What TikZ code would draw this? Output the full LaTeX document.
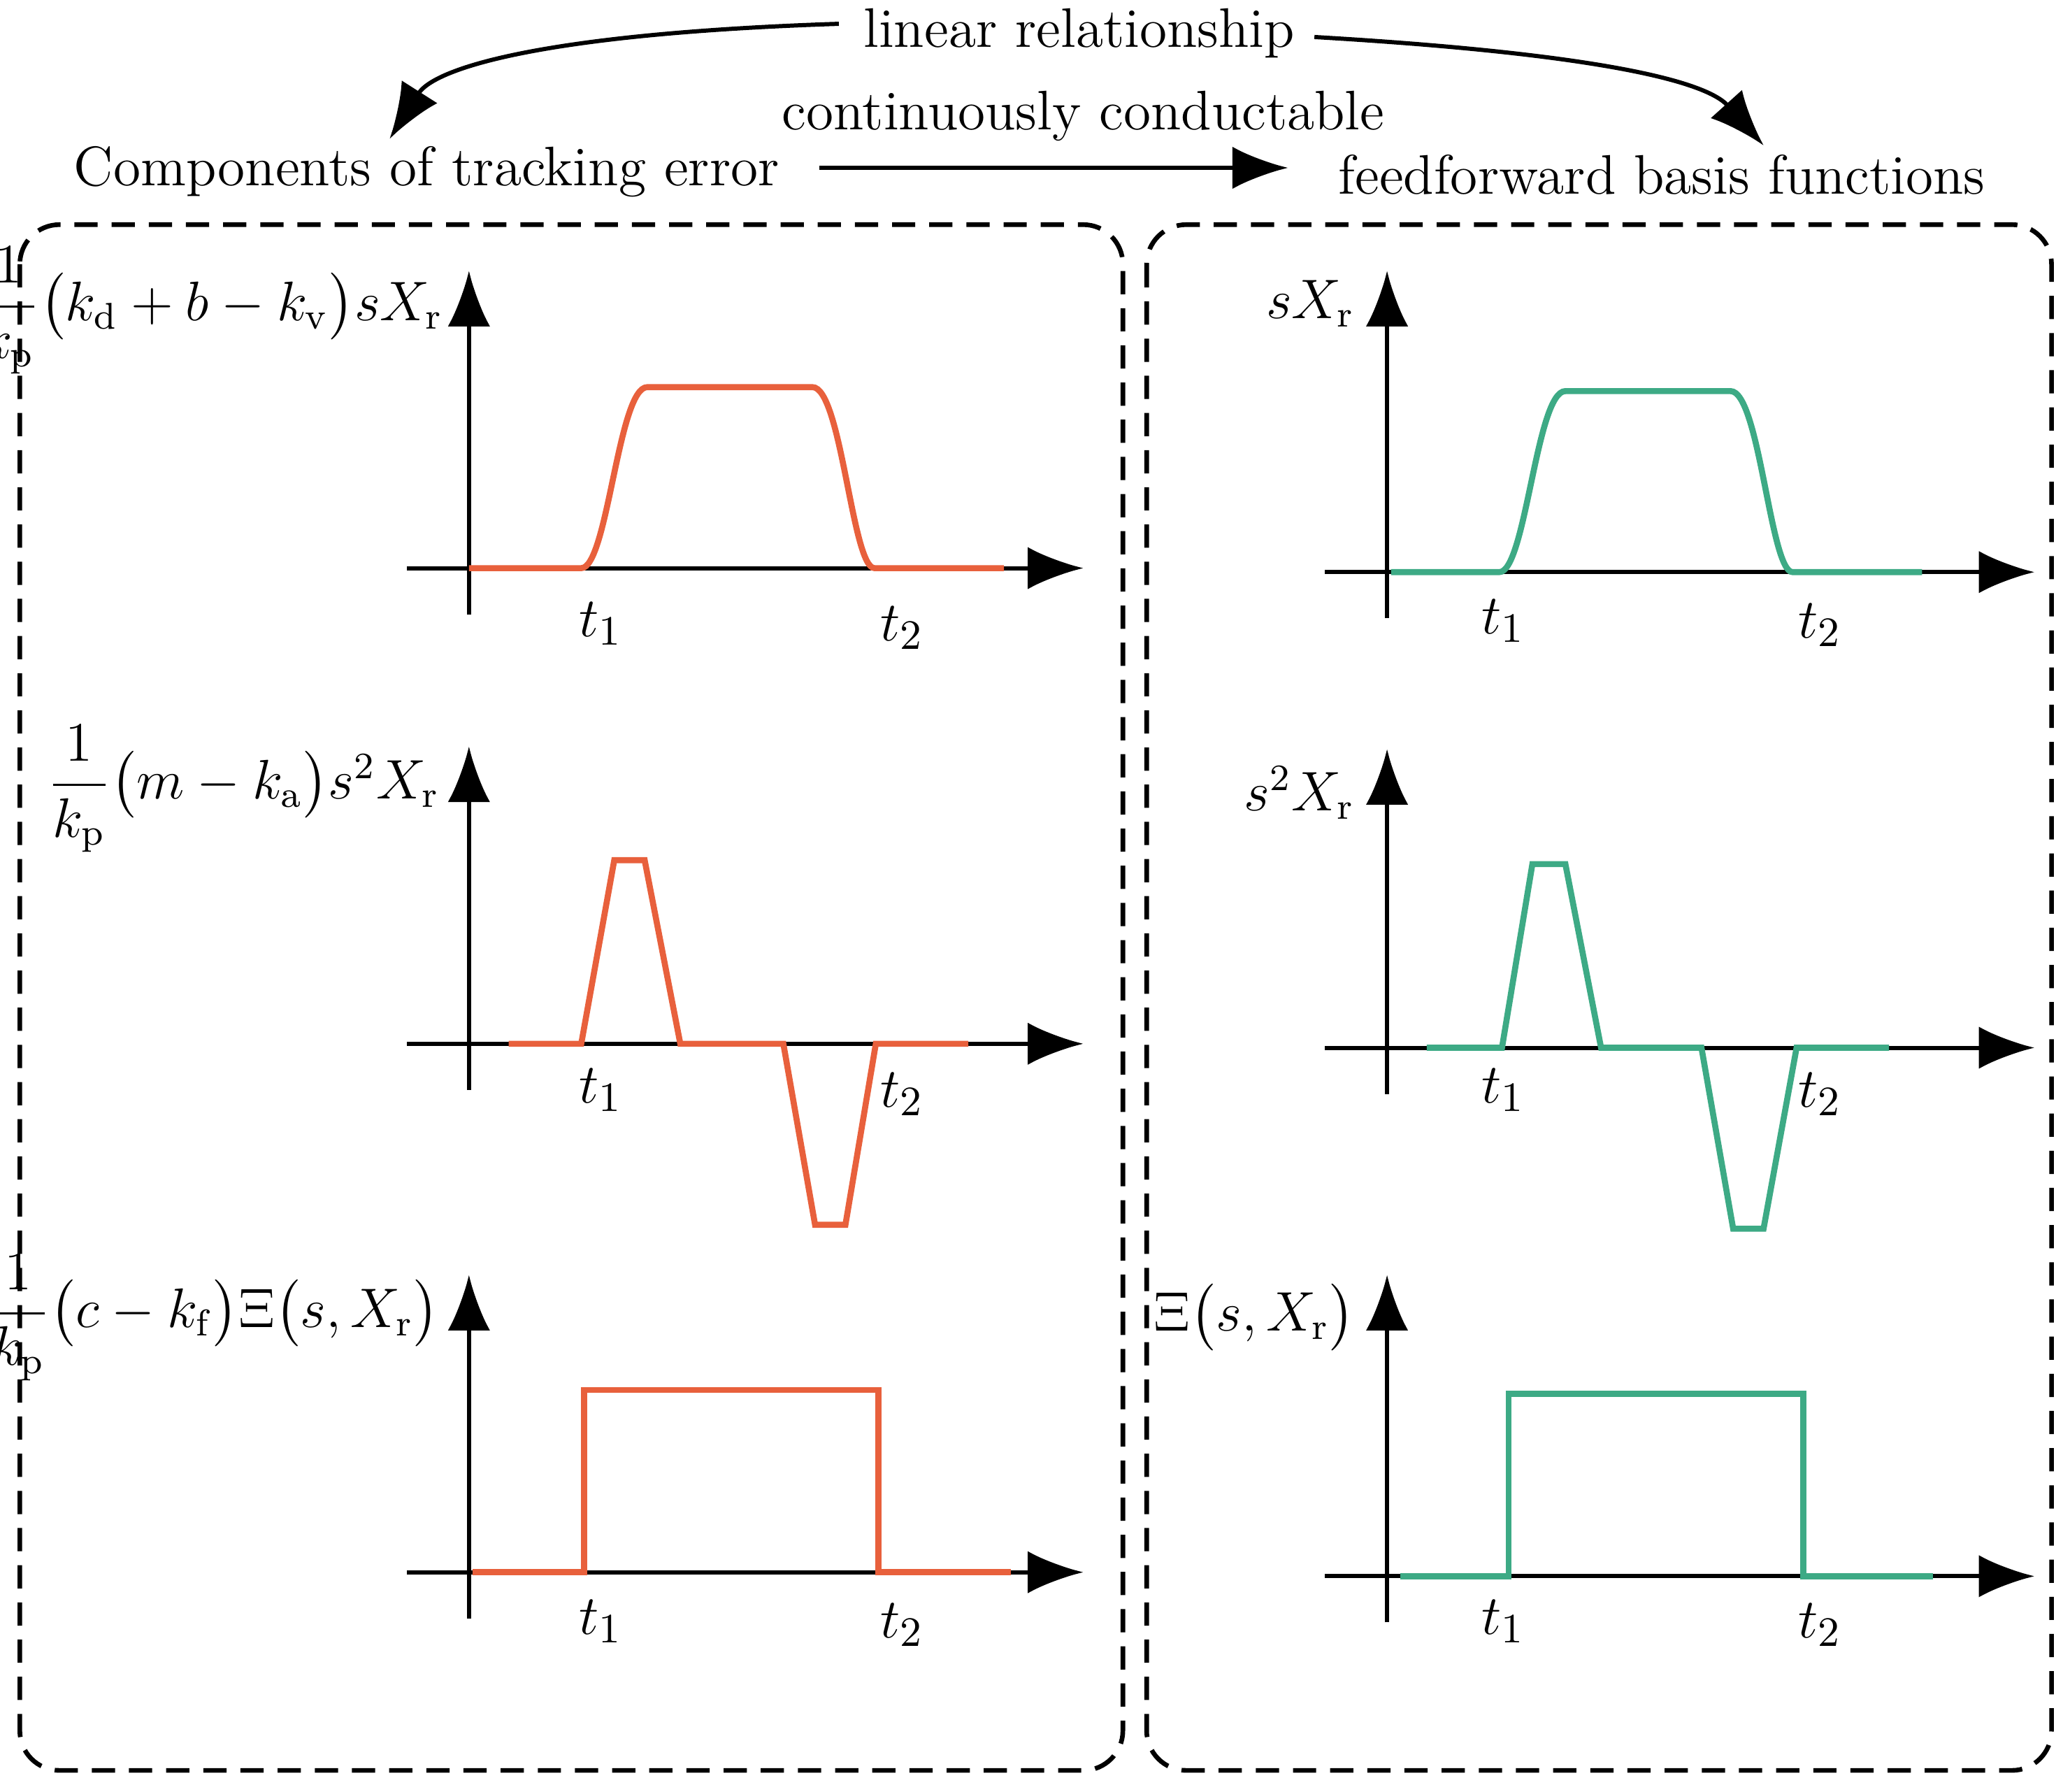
\documentclass[tikz,border=0pt]{standalone}
\usepackage{amsmath}
\usetikzlibrary{arrows.meta}
\definecolor{org}{HTML}{E8603C}
\definecolor{grn}{HTML}{3DAA85}
\begin{document}
\begin{tikzpicture}[x=0.01cm,y=-0.01cm,
  ax/.style={line width=0.9pt,-{Latex[length=0.42cm,width=0.32cm]}},
  cv/.style={line width=1.3pt},
  frame/.style={dashed,line width=1pt,rounded corners=0.3cm,dash pattern=on 5pt off 3pt},
  lbl/.style={font=\fontsize{12}{14}\selectfont},
  tl/.style={font=\fontsize{13}{15}\selectfont}]
\useasboundingbox (0,0) rectangle (1567,1356);
\node[lbl] (lin) at (817,25) {linear relationship};
\node[lbl] (cc) at (820,88) {continuously conductable};
\node[lbl] (cte) at (323,130) {Components of tracking error};
\node[lbl] (ffb) at (1258,132) {feedforward basis functions};
\coordinate (la) at (635,18); \coordinate (lb) at (295,105);
\coordinate (ra) at (995,28); \coordinate (rb) at (1335,110);
\coordinate (ca) at (620,127); \coordinate (cb) at (975,127);
\draw[ax] (la) .. controls (420,25) and (330,50) .. (lb);
\draw[ax] (ra) .. controls (1200,40) and (1290,60) .. (rb);
\draw[ax] (ca) -- (cb);
\draw[frame] (15,170) rectangle (850,1340);
\draw[frame] (868,170) rectangle (1553,1340);
% left
\foreach \ya/\yt in {430/205,790/565,1190/965}{
  \draw[ax] (355,\ya+35) -- (355,\yt);
  \draw[ax] (308,\ya) -- (820,\ya);}
\foreach \ya/\yt in {433/205,793/567,1193/965}{
  \draw[ax] (1050,\ya+35) -- (1050,\yt);
  \draw[ax] (1003,\ya) -- (1540,\ya);}
\draw[cv,org] (355,430) -- (440,430) .. controls (460,430) and (468,293) .. (490,293) -- (615,293) .. controls (637,293) and (645,430) .. (662,430) -- (760,430);
\draw[cv,org] (385,790) -- (440,790) -- (465,651) -- (488,651) -- (515,790) -- (593,790) -- (617,927) -- (640,927) -- (663,790) -- (733,790);
\draw[cv,org] (358,1190) -- (442,1190) -- (442,1052) -- (665,1052) -- (665,1190) -- (765,1190);
\draw[cv,grn] (1053,433) -- (1135,433) .. controls (1155,433) and (1163,296) .. (1185,296) -- (1310,296) .. controls (1332,296) and (1340,433) .. (1357,433) -- (1455,433);
\draw[cv,grn] (1080,793) -- (1137,793) -- (1160,654) -- (1185,654) -- (1212,793) -- (1288,793) -- (1312,930) -- (1335,930) -- (1360,793) -- (1430,793);
\draw[cv,grn] (1060,1193) -- (1142,1193) -- (1142,1055) -- (1365,1055) -- (1365,1193) -- (1463,1193);
\foreach \n/\x/\y/\s in {a/455/472/1,b/683/475/2,c/455/825/1,d/683/828/2,e/455/1227/1,f/683/1230/2,g/1138/470/1,h/1378/473/2,i/1138/825/1,j/1378/828/2,k/1138/1227/1,l/1378/1230/2}{
  \node[tl] (t\n) at (\x,\y) {$t_{\s}$};}
\node[lbl,anchor=east] (l1) at (348,235) {$\dfrac{1}{k_{\mathrm p}}\bigl(k_{\mathrm d}+b-k_{\mathrm v}\bigr)sX_{\mathrm r}$};
\node[lbl,anchor=east] (l2) at (345,597) {$\dfrac{1}{k_{\mathrm p}}\bigl(m-k_{\mathrm a}\bigr)s^2X_{\mathrm r}$};
\node[lbl,anchor=east] (l3) at (345,997) {$\dfrac{1}{k_{\mathrm p}}\bigl(c-k_{\mathrm f}\bigr)\Xi\bigl(s,X_{\mathrm r}\bigr)$};
\node[lbl,anchor=east] (r1) at (1038,230) {$sX_{\mathrm r}$};
\node[lbl,anchor=east] (r2) at (1038,600) {$s^2X_{\mathrm r}$};
\node[lbl,anchor=east] (r3) at (1038,997) {$\Xi\bigl(s,X_{\mathrm r}\bigr)$};
\end{tikzpicture}
\end{document}
